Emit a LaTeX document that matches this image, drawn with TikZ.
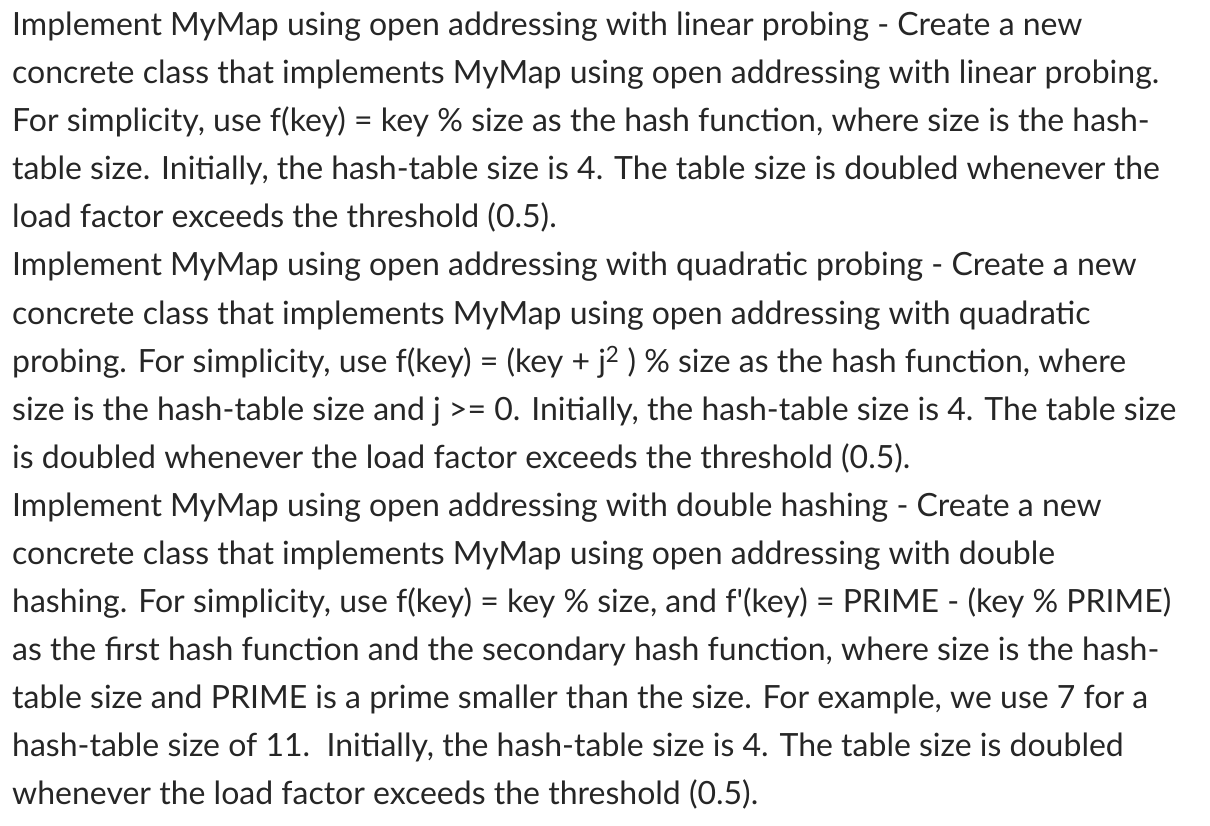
\documentclass[tikz,border=0pt]{standalone}
\usepackage{fontspec}
\setmainfont{Lato}
\begin{document}
\begin{tikzpicture}[x=1pt,y=-1pt,ln/.style={anchor=base west,inner sep=0pt,font=\fontsize{32}{36}\selectfont,text=black!85}]
\useasboundingbox (0,0) rectangle (1210,826);
\foreach \t [count=\i] in {
Implement MyMap using open addressing with linear probing - Create a new,
concrete class that implements MyMap using open addressing with linear probing.,
{For simplicity, use f(key) = key \% size as the hash function, where size is the hash-},
table size. Initially{,} the hash-table size is 4. The table size is doubled whenever the,
load factor exceeds the threshold (0.5).,
Implement MyMap using open addressing with quadratic probing - Create a new,
concrete class that implements MyMap using open addressing with quadratic,
{probing. For simplicity, use f(key) = (key + j\textsuperscript{2} ) \% size as the hash function, where},
{size is the hash-table size and j >= 0. Initially, the hash-table size is 4. The table size},
is doubled whenever the load factor exceeds the threshold (0.5).,
Implement MyMap using open addressing with double hashing - Create a new,
concrete class that implements MyMap using open addressing with double,
{hashing. For simplicity, use f(key) = key \% size, and f\textquotesingle(key) = PRIME - (key \% PRIME)},
{as the first hash function and the secondary hash function, where size is the hash-},
table size and PRIME is a prime smaller than the size. For example{,} we use 7 for a,
{hash-table size of 11.\ \ Initially, the hash-table size is 4. The table size is doubled},
whenever the load factor exceeds the threshold (0.5).}
\node[ln] (l\i) at (12,{36+48*(\i-1)}) {\t};
\end{tikzpicture}
\end{document}
